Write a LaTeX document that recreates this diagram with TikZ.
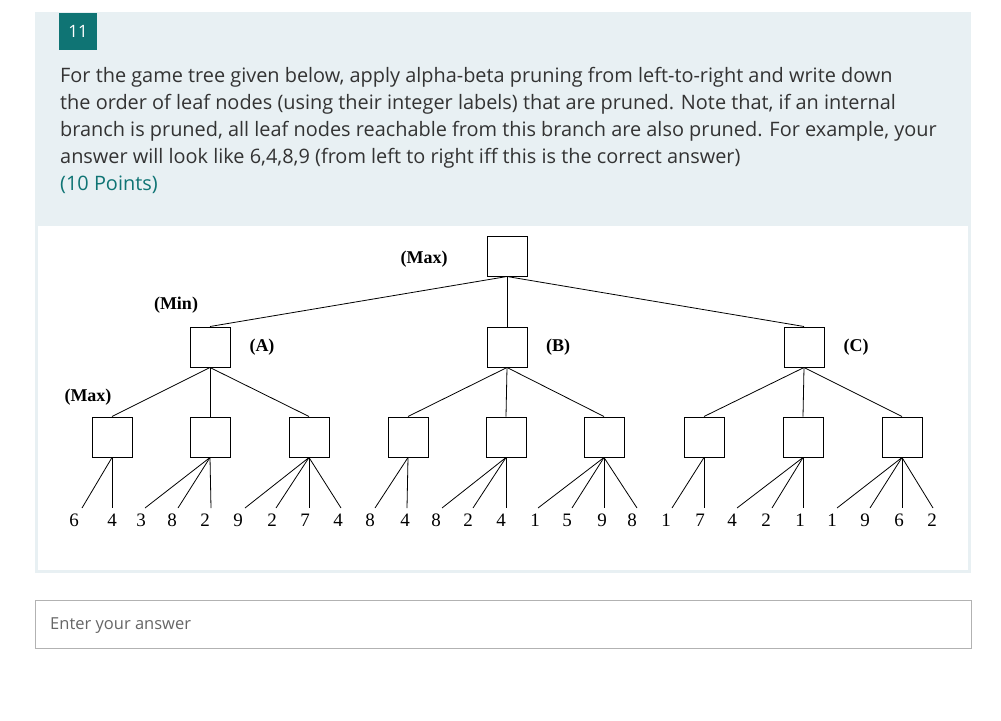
\documentclass[tikz,border=0pt]{standalone}
\usepackage{fontspec}
\setmainfont{Open Sans}
\newfontfamily\tree{Liberation Serif}
\definecolor{panel}{HTML}{E8F0F3}
\definecolor{teal}{HTML}{0F7474}
\definecolor{txt}{HTML}{333333}
\begin{document}
\begin{tikzpicture}[x=1pt,y=-1pt,
  box/.style={draw,line width=1pt,minimum width=40pt,minimum height=40pt,inner sep=0},
  lf/.style={font=\tree\fontsize{19}{19}\selectfont,anchor=north,inner sep=0pt},
  tl/.style={font=\tree\bfseries\fontsize{18}{18}\selectfont,inner sep=0},
  ln/.style={anchor=west,font=\fontsize{19.9}{21}\selectfont,text=txt,inner sep=0},
  edge/.style={line width=0.8pt}]
\useasboundingbox (0,0) rectangle (1001,720);
\fill[white] (0,0) rectangle (1001,720);
\fill[panel] (35,12) rectangle (971,573);
\fill[white] (38,226) rectangle (968,570);
\node[fill=teal,minimum width=38pt,minimum height=37pt,inner sep=0,text=white,font=\fontsize{17}{17}\selectfont] (badge) at (78,31.5) {11};
\node[ln] (t1) at (60,77) {For the game tree given below, apply alpha-beta pruning from left-to-right and write down};
\node[ln] (t2) at (60,104) {the order of leaf nodes (using their integer labels) that are pruned. Note that, if an internal};
\node[ln] (t3) at (60,131) {branch is pruned, all leaf nodes reachable from this branch are also pruned. For example, your};
\node[ln] (t4) at (60,158) {answer will look like 6,4,8,9 (from left to right iff this is the correct answer)};
\node[ln,text=teal] (t5) at (60,185) {(10 Points)};
% tree
\node[box] (R) at (507,256) {};
\node[box] (A) at (210,347) {};
\node[box] (B) at (507,347) {};
\node[box] (C) at (804,347) {};
\foreach \n/\x in {1/112,2/210,3/309,4/408,5/506,6/604,7/704,8/803,9/902}
  \node[box] (m\n) at (\x,437) {};
\node[tl] (lmax) at (424,259) {(Max)};
\node[tl] (lmin) at (176,305) {(Min)};
\node[tl] (la) at (262,347) {(A)};
\node[tl] (lb) at (558,347) {(B)};
\node[tl] (lc) at (856,347) {(C)};
\node[tl] (lmax2) at (88,397) {(Max)};
\foreach \c in {A,B,C} \draw[edge] (R.south) -- (\c.north);
\draw[edge] (A.south) -- (m1.north); \draw[edge] (A.south) -- (m2.north); \draw[edge] (A.south) -- (m3.north);
\draw[edge] (B.south) -- (m4.north); \draw[edge] (B.south) -- (m5.north); \draw[edge] (B.south) -- (m6.north);
\draw[edge] (C.south) -- (m7.north); \draw[edge] (C.south) -- (m8.north); \draw[edge] (C.south) -- (m9.north);
\foreach \i/\x/\e/\v/\p in {1/74/82/6/1,2/112/112/4/1,3/141/145/3/2,4/172/178/8/2,5/205/211/2/2,6/238/245/9/3,7/272/276/2/3,8/305/309/7/3,9/338/341/4/3,
 10/370/375/8/4,11/405/407/4/4,12/436/442/8/5,13/468/473/2/5,14/501/506/4/5,15/535/538/1/6,16/567/572/5/6,17/602/604/9/6,18/632/637/8/6,
 19/666/672/1/7,20/700/704/7/7,21/732/737/4/8,22/766/772/2/8,23/800/803/1/8,24/832/837/1/9,25/865/870/9/9,26/899/902/6/9,27/932/933/2/9}{
  \node[lf] (f\i) at (\x,514) {\v};
  \coordinate (e\i) at (\e,508);
  \draw[edge] (m\p.south) -- (e\i);
}
% answer box
\draw[draw=black!30,fill=white] (35,600) rectangle (971,648);
\node[anchor=west,text=black!60,font=\fontsize{16.5}{16.5}\selectfont,inner sep=0] (ans) at (50,626) {Enter your answer};
\end{tikzpicture}
\end{document}
